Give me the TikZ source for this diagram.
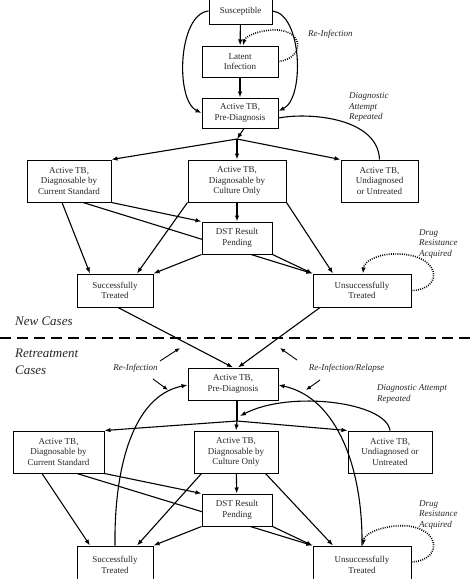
\documentclass[tikz,border=0pt]{standalone}
\usepackage{fontspec}
\setmainfont{Liberation Serif}
\usetikzlibrary{arrows.meta,calc}
\pgfdeclarelayer{bg}
\pgfsetlayers{bg,main}
\begin{document}
\begin{tikzpicture}[x=1pt,y=-1pt,
  box/.style={draw, fill=white, line width=1pt, align=center, inner sep=0pt,
    font=\fontsize{9}{10.7}\selectfont, text=black!85},
  arr/.style={line width=1.1pt, -{Latex[length=6pt,width=4.5pt]}},
  plain/.style={line width=1.1pt},
  dotarr/.style={line width=1.6pt, dash pattern=on 0.9pt off 1.3pt, -{Latex[length=6pt,width=4.5pt]}},
  lbl/.style={font=\fontsize{9}{10.6}\selectfont\itshape, align=left, inner sep=0pt, text=black!85},
  biglbl/.style={font=\fontsize{13}{17}\selectfont\itshape, align=left, inner sep=0pt, text=black!85},
  smallarr/.style={line width=0.9pt, -{Latex[length=5pt,width=4pt]}}]
\useasboundingbox (0,0) rectangle (474,579);

% ---------- New cases ----------
\node[box, minimum width=63pt, minimum height=26pt] (sus) at (240.5,11) {Susceptible};
\node[box, minimum width=76pt, minimum height=31pt] (lat) at (240,61.5) {Latent\\Infection};
\node[box, minimum width=76pt, minimum height=30pt] (pre1) at (240,113) {Active TB,\\Pre-Diagnosis};
\node[box, minimum width=84pt, minimum height=42pt] (cs1) at (69,181) {Active TB,\\Diagnosable by\\Current Standard};
\node[box, minimum width=98pt, minimum height=42pt] (co1) at (237,181) {Active TB,\\Diagnosable by\\Culture Only};
\node[box, minimum width=77pt, minimum height=42pt] (un1) at (379.5,181) {Active TB,\\Undiagnosed\\or Untreated};
\node[box, minimum width=70pt, minimum height=32pt] (dst1) at (237,238) {DST Result\\Pending};
\node[box, minimum width=76pt, minimum height=33pt] (st1) at (115,290.5) {Successfully\\Treated};
\node[box, minimum width=98pt, minimum height=33pt] (ut1) at (362,290.5) {Unsuccessfully\\Treated};

\coordinate (sp1) at (237,139);

\draw[arr] (sus) -- (lat);
\draw[arr] (sus.west) .. controls (178,14) and (175,100) .. (pre1.west);
\draw[arr] (sus.east) .. controls (302,14) and (305,98) .. ([yshift=2pt]pre1.east);
\draw[arr] (lat) -- (pre1);
\draw[dotarr] (lat.east) .. controls (306,58) and (304,28) .. (272,30) .. controls (256,31) and (245,37) .. ([xshift=3pt]lat.north);
\draw[plain] (un1.north) .. controls (378,118) and (310,112) .. ([yshift=-5pt]pre1.east);
\draw[arr] ([xshift=4pt]pre1.south) -- (sp1);
\draw[arr] (sp1) -- (cs1.north east);
\draw[arr] (sp1) -- (co1.north);
\draw[arr] (sp1) -- (un1.north west);
\draw[arr] (co1) -- (dst1);
\draw[arr] (cs1.south east) -- (dst1.north west);
\begin{pgfonlayer}{bg}
\draw[arr] ([xshift=14pt]cs1.south) -- (ut1.north west);
\end{pgfonlayer}
\draw[arr] ([xshift=-7pt]cs1.south) -- ([xshift=-25pt]st1.north);
\draw[arr] (co1.south west) -- ([xshift=22pt]st1.north);
\draw[arr] (co1.south east) -- ([xshift=-29pt]ut1.north);
\draw[arr] (dst1.south west) -- (st1.north east);
\draw[arr] (dst1.south east) -- (ut1.north west);
\draw[dotarr] (ut1.east) .. controls (445,290) and (442,252) .. (392,254) .. controls (375,255) and (364,262) .. ([xshift=1pt]ut1.north);

\node[lbl, anchor=west] (reinf1) at (308,34) {Re-Infection};
\node[lbl, anchor=west] (diag1) at (349,107) {Diagnostic\\Attempt\\Repeated};
\node[lbl, anchor=west] (drug1) at (419,244) {Drug\\Resistance\\Acquired};

% ---------- divider ----------
\coordinate (dl) at (0,338);
\coordinate (dr) at (474,338);
\draw[line width=2.5pt, dash pattern=on 11pt off 6pt] (dl) -- (dr);
\node[biglbl, anchor=base west] (newc) at (15,325) {New Cases};
\node[biglbl, anchor=north west] (retr) at (15,349) {Retreatment\\Cases};

% ---------- Retreatment cases ----------
\node[box, minimum width=90pt, minimum height=32pt] (pre2) at (233,384) {Active TB,\\Pre-Diagnosis};
\node[box, minimum width=91pt, minimum height=42pt] (cs2) at (58.5,452) {Active TB,\\Diagnosable by\\Current Standard};
\node[box, minimum width=84pt, minimum height=42pt] (co2) at (236,452) {Active TB,\\Diagnosable by\\Culture Only};
\node[box, minimum width=84pt, minimum height=42pt] (un2) at (390,452) {Active TB,\\Undiagnosed or\\Untreated};
\node[box, minimum width=70pt, minimum height=32pt] (dst2) at (237,510) {DST Result\\Pending};
\node[box, minimum width=76pt, minimum height=38pt] (st2) at (115,565) {Successfully\\Treated};
\node[box, minimum width=98pt, minimum height=38pt] (ut2) at (362,565) {Unsuccessfully\\Treated};

\draw[arr] ([xshift=3pt]st1.south) -- (pre2.north);
\draw[arr] ([xshift=-42pt]ut1.south) -- ([xshift=5pt]pre2.north);

\node[lbl] (ri2) at (135.5,368) {Re-Infection};
\node[lbl] (rr2) at (346.5,368) {Re-Infection/Relapse};
\coordinate (ria1) at (160,361); \coordinate (ria2) at (180,348);
\coordinate (rib1) at (153,379); \coordinate (rib2) at (168,390);
\coordinate (rra1) at (297,360); \coordinate (rra2) at (280,348);
\coordinate (rrb1) at (320,380); \coordinate (rrb2) at (306,390);
\draw[smallarr] (ria1) -- (ria2);
\draw[smallarr] (rib1) -- (rib2);
\draw[smallarr] (rra1) -- (rra2);
\draw[smallarr] (rrb1) -- (rrb2);

\coordinate (sp2) at (237,421);
\coordinate (dtip2) at (240,416);
\draw[arr] (st2.north) .. controls (114,470) and (132,396) .. ([yshift=-1pt]pre2.west);
\draw[arr] (ut2.north) .. controls (363,470) and (338,398) .. ([yshift=-1pt]pre2.east);
\draw[plain] ([xshift=4pt]pre2.south) -- (sp2);
\draw[arr] (un2.north) .. controls (386,402) and (290,390) .. (dtip2);
\draw[arr] (sp2) -- (cs2.north east);
\draw[arr] (sp2) -- (co2.north);
\draw[arr] (sp2) -- (un2.north west);
\draw[arr] (co2) -- (dst2);
\draw[arr] (cs2.south east) -- (dst2.north west);
\begin{pgfonlayer}{bg}
\draw[arr] ([xshift=18.5pt]cs2.south) -- (ut2.north west);
\end{pgfonlayer}
\draw[arr] ([xshift=-16.5pt]cs2.south) -- ([xshift=-25pt]st2.north);
\draw[arr] ([xshift=8pt]co2.south west) -- ([xshift=22pt]st2.north);
\draw[arr] ([xshift=-13pt]co2.south east) -- ([xshift=-29pt]ut2.north);
\draw[arr] (dst2.south west) -- (st2.north east);
\draw[arr] (dst2.south east) -- (ut2.north west);
\draw[dotarr] ([yshift=3pt]ut2.east) .. controls (446,560) and (440,522) .. (395,526) .. controls (376,528) and (364,535) .. ([xshift=1pt]ut2.north);

\node[lbl, anchor=west] (diag2) at (377,394) {Diagnostic Attempt\\Repeated};
\node[lbl, anchor=west] (drug2) at (419,515) {Drug\\Resistance\\Acquired};
\end{tikzpicture}
\end{document}
